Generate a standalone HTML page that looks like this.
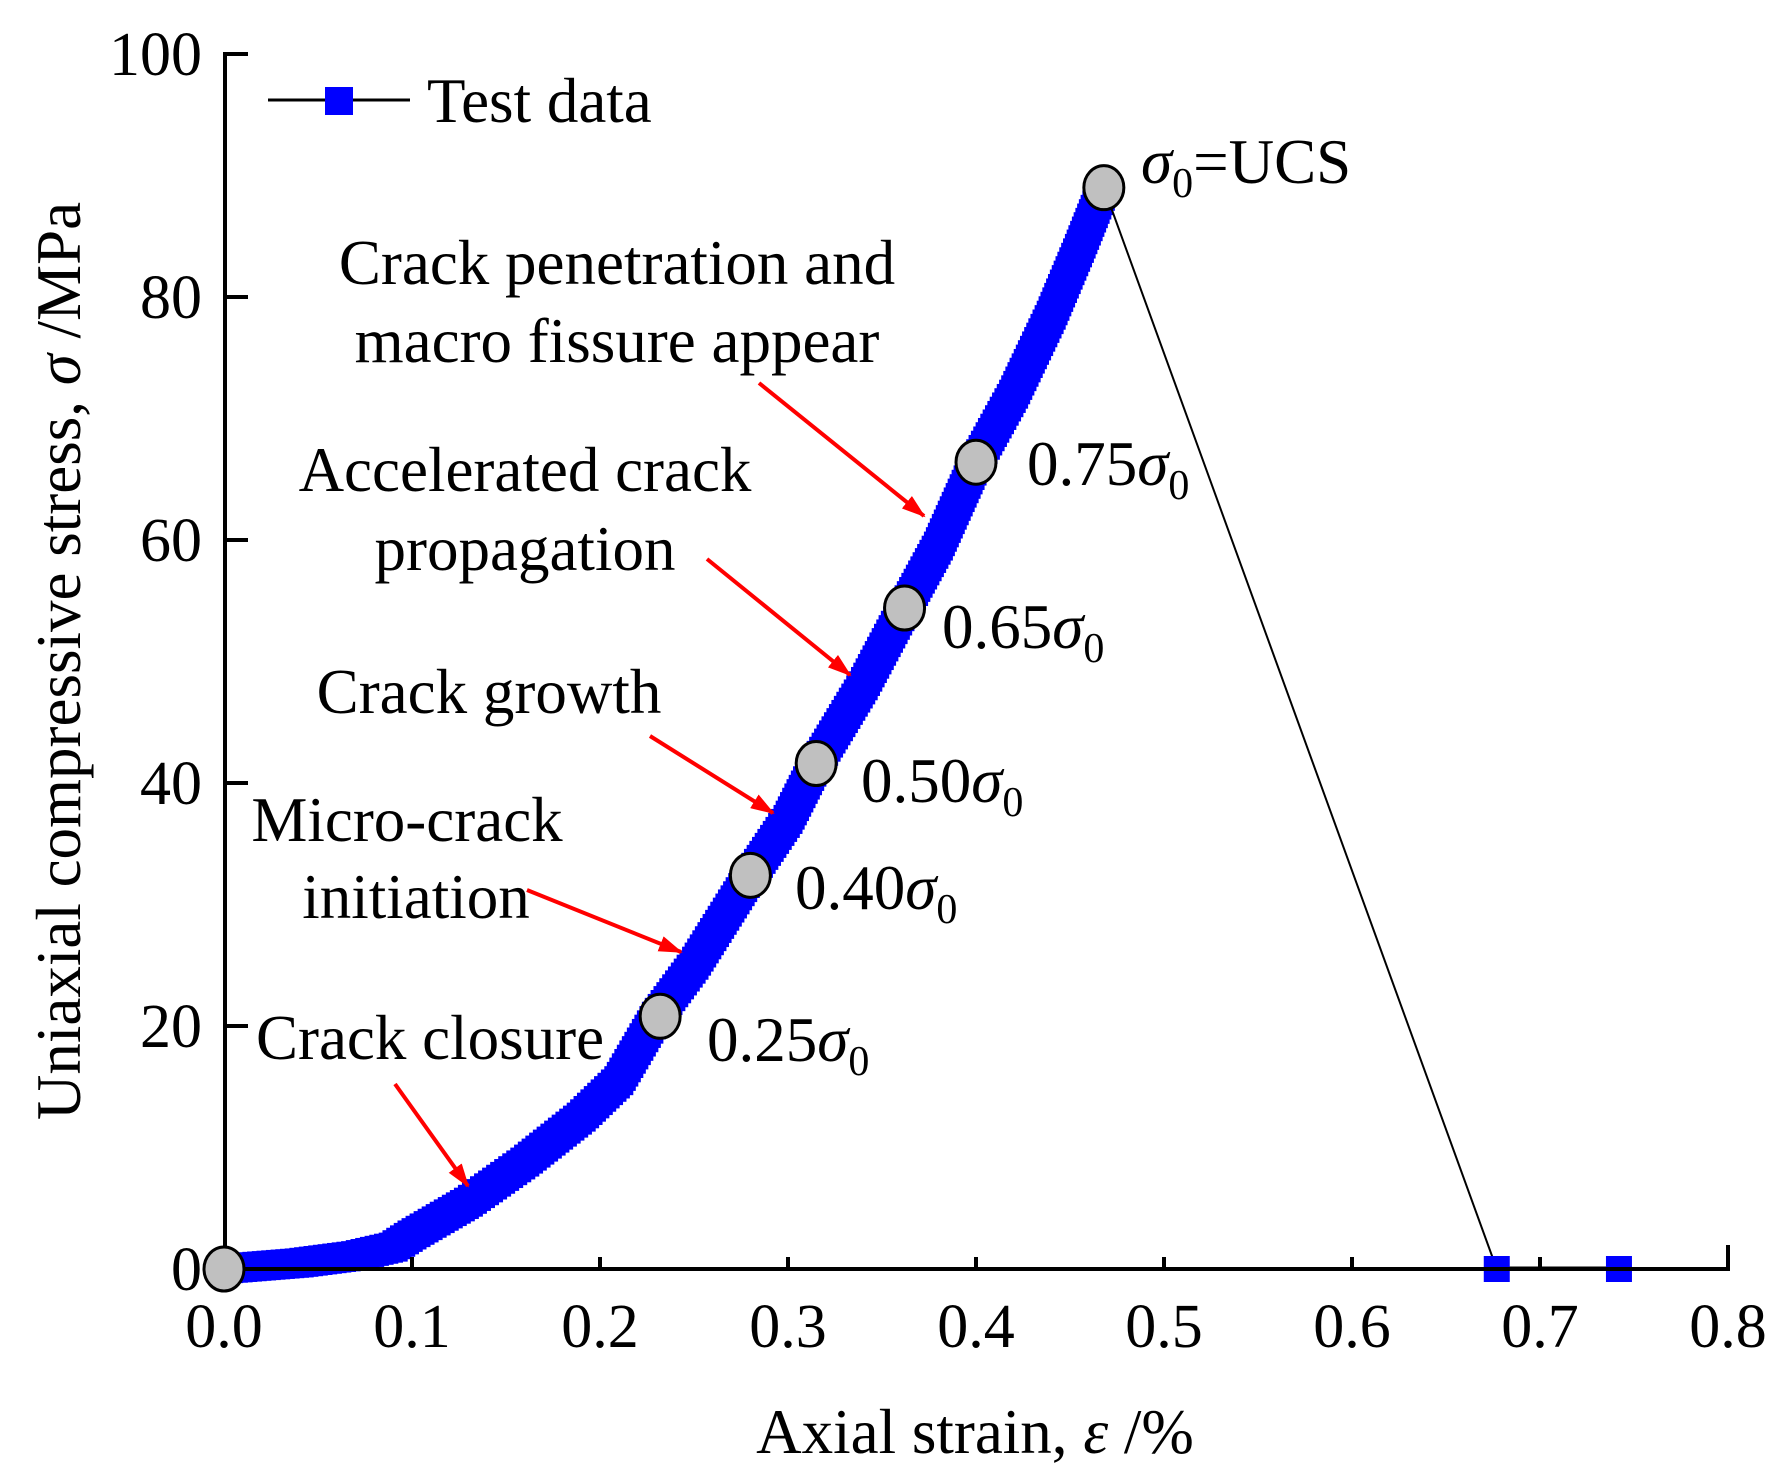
<!DOCTYPE html>
<html><head><meta charset="utf-8"><style>
html,body{margin:0;padding:0;background:#fff;}
svg{display:block;font-family:"Liberation Serif",serif;}
</style></head><body>
<svg id="s" width="1784" height="1479" viewBox="0 0 1784 1479" xmlns="http://www.w3.org/2000/svg">
<defs><marker id="ah" markerWidth="24" markerHeight="16" refX="22" refY="8" orient="auto" markerUnits="userSpaceOnUse" viewBox="0 0 24 16"><path d="M0,0 L24,8 L0,16 z" fill="#ff0000"/></marker></defs>
<g id="data"></g>
<g stroke="#000" stroke-width="4" fill="none">
<line x1="225" y1="52" x2="225" y2="1271"/>
<line x1="223" y1="1269" x2="1730" y2="1269"/>
<line x1="225" y1="54" x2="248" y2="54"/>
<line x1="225" y1="297" x2="248" y2="297"/>
<line x1="225" y1="540" x2="248" y2="540"/>
<line x1="225" y1="783" x2="248" y2="783"/>
<line x1="225" y1="1026" x2="248" y2="1026"/>
<line x1="412" y1="1269" x2="412" y2="1257"/>
<line x1="600" y1="1269" x2="600" y2="1257"/>
<line x1="788" y1="1269" x2="788" y2="1257"/>
<line x1="976" y1="1269" x2="976" y2="1257"/>
<line x1="1164" y1="1269" x2="1164" y2="1257"/>
<line x1="1352" y1="1269" x2="1352" y2="1257"/>
<line x1="1540" y1="1269" x2="1540" y2="1257"/>
<line x1="1728" y1="1269" x2="1728" y2="1245"/>
</g>
<g font-size="62" text-anchor="end" fill="#000">
<text x="202" y="75">100</text>
<text x="202" y="318">80</text>
<text x="202" y="561">60</text>
<text x="202" y="804">40</text>
<text x="202" y="1047">20</text>
<text x="202" y="1290">0</text>
</g>
<g font-size="62" text-anchor="middle" fill="#000">
<text x="224" y="1347">0.0</text>
<text x="412" y="1347">0.1</text>
<text x="600" y="1347">0.2</text>
<text x="788" y="1347">0.3</text>
<text x="976" y="1347">0.4</text>
<text x="1164" y="1347">0.5</text>
<text x="1352" y="1347">0.6</text>
<text x="1540" y="1347">0.7</text>
<text x="1728" y="1347">0.8</text>
</g>
<text x="975" y="1453" font-size="63" text-anchor="middle">Axial strain, <tspan font-style="italic">ε</tspan> /%</text>
<text transform="translate(80,661) rotate(-90)" font-size="63" text-anchor="middle">Uniaxial compressive stress, <tspan font-style="italic">σ</tspan> /MPa</text>
<line x1="268" y1="100" x2="410" y2="100" stroke="#000" stroke-width="3"/>
<rect x="325" y="87" width="28" height="28" fill="#0000ff"/>
<text x="427" y="122" font-size="63">Test data</text>
<g font-size="63" text-anchor="middle">
<text x="617" y="284">Crack penetration and</text>
<text x="617" y="362">macro fissure appear</text>
<text x="525" y="491">Accelerated crack</text>
<text x="525" y="570">propagation</text>
<text x="489" y="713">Crack growth</text>
<text x="407" y="841">Micro-crack</text>
<text x="416" y="918">initiation</text>
<text x="430" y="1059">Crack closure</text>
</g>
<g font-size="63">
<text x="1141" y="183"><tspan font-style="italic">σ</tspan><tspan font-size="42" dy="14">0</tspan><tspan dy="-14">=UCS</tspan></text>
<text x="1027" y="485">0.75<tspan font-style="italic">σ</tspan><tspan font-size="42" dy="14">0</tspan></text>
<text x="942" y="648">0.65<tspan font-style="italic">σ</tspan><tspan font-size="42" dy="14">0</tspan></text>
<text x="861" y="802">0.50<tspan font-style="italic">σ</tspan><tspan font-size="42" dy="14">0</tspan></text>
<text x="795" y="909">0.40<tspan font-style="italic">σ</tspan><tspan font-size="42" dy="14">0</tspan></text>
<text x="707" y="1061">0.25<tspan font-style="italic">σ</tspan><tspan font-size="42" dy="14">0</tspan></text>
</g>
<g stroke="#ff0000" stroke-width="4">
<line x1="759" y1="383" x2="924" y2="516" marker-end="url(#ah)"/>
<line x1="707" y1="559" x2="850" y2="675" marker-end="url(#ah)"/>
<line x1="650" y1="736" x2="773" y2="813" marker-end="url(#ah)"/>
<line x1="527" y1="890" x2="681" y2="952" marker-end="url(#ah)"/>
<line x1="395" y1="1084" x2="468" y2="1186" marker-end="url(#ah)"/>
</g>
<g id="circ"></g>
</svg>
<script>
(function(){
var NS="http://www.w3.org/2000/svg";
function X(e){return 224+e*1880;}
function Y(s){return 1269-s*12.15;}
var d=[[0,0],[0.04,0.5],[0.07,1.1],[0.09,1.8],[0.1,2.8],[0.13,5.5],[0.16,8.8],[0.19,12.5],[0.21,15.5],[0.23,20.8],[0.25,25],[0.28,32.4],[0.3,37],[0.315,41.6],[0.34,48],[0.362,54.4],[0.38,59.5],[0.4,66.4],[0.42,72],[0.44,78.5],[0.455,84],[0.468,89]];
var g=document.getElementById('data');
function el(n,a,p){var e=document.createElementNS(NS,n);for(var k in a)e.setAttribute(k,a[k]);(p||g).appendChild(e);return e;}
var pts=d.map(function(p){return [X(p[0]),Y(p[1])];});
var sz=29;
for(var i=0;i<pts.length-1;i++){
 var a=pts[i],b=pts[i+1],L=Math.hypot(b[0]-a[0],b[1]-a[1]),n=Math.max(1,Math.ceil(L/5));
 for(var j=0;j<n;j++){var t=j/n;var x=a[0]+(b[0]-a[0])*t,y=a[1]+(b[1]-a[1])*t;
  el('rect',{x:x-sz/2,y:y-sz/2,width:sz,height:sz,fill:'#0000ff'});}
}
el('rect',{x:pts[pts.length-1][0]-sz/2,y:pts[pts.length-1][1]-sz/2,width:sz,height:sz,fill:'#0000ff'});
var p1=[X(0.677),Y(0)],p2=[X(0.742),Y(0)];
el('line',{x1:pts[pts.length-1][0],y1:pts[pts.length-1][1],x2:p1[0],y2:p1[1],stroke:'#000','stroke-width':2});
el('line',{x1:p1[0],y1:p1[1]-1,x2:p2[0],y2:p2[1]-1,stroke:'#000','stroke-width':3});
[p1,p2].forEach(function(p){el('rect',{x:p[0]-13,y:p[1]-13,width:26,height:26,fill:'#0000ff'});});
var c=document.getElementById('circ');
[[0,0],[0.232,20.8],[0.28,32.4],[0.315,41.6],[0.362,54.4],[0.4,66.4],[0.468,89]].forEach(function(p){
 el('ellipse',{cx:X(p[0]),cy:Y(p[1]),rx:20,ry:22,fill:'#c0c0c0',stroke:'#000','stroke-width':3},c);});
})();
</script>
</body></html>
